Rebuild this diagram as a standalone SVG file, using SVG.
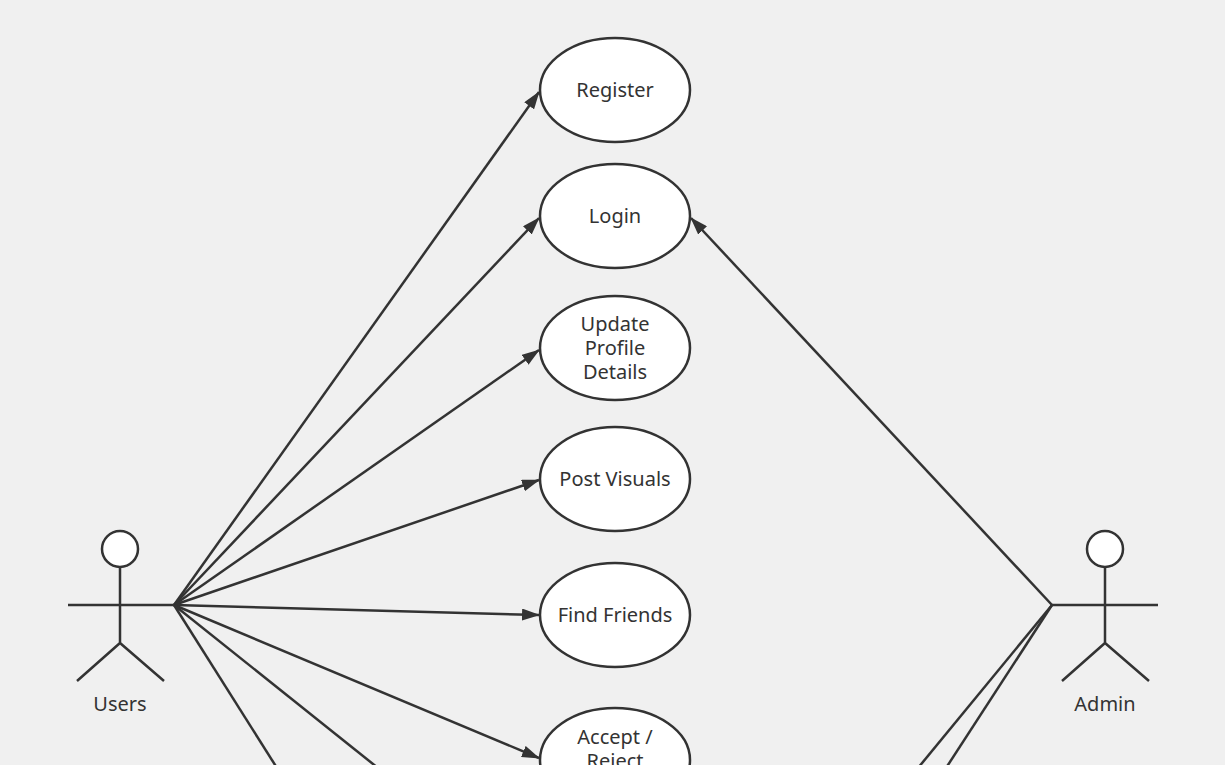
<svg xmlns="http://www.w3.org/2000/svg" width="1225" height="765" viewBox="0 0 1225 765">
<defs>
<marker id="a" markerWidth="18" markerHeight="12" refX="17" refY="6" orient="auto" markerUnits="userSpaceOnUse"><path d="M0,0 L18,6 L0,12 Z" fill="#333"/></marker>
<style>
.u{fill:#fff;stroke:#333;stroke-width:2.5}
.t{font-family:"Noto Sans","Open Sans",sans-serif;font-size:20px;fill:#333;text-anchor:middle}
.c{stroke:#333;stroke-width:2.5;fill:none}
.ar{marker-end:url(#a)}
</style>
</defs>
<rect width="1225" height="765" fill="#f0f0f0"/>
<g id="connectors">
<line class="c ar" x1="174" y1="605" x2="539" y2="92"/>
<line class="c ar" x1="174" y1="605" x2="539" y2="218"/>
<line class="c ar" x1="174" y1="605" x2="539" y2="350"/>
<line class="c ar" x1="174" y1="605" x2="539" y2="480"/>
<line class="c ar" x1="174" y1="605" x2="539" y2="615"/>
<line class="c ar" x1="174" y1="605" x2="539" y2="758"/>
<line class="c" x1="174" y1="605" x2="277" y2="768"/>
<line class="c" x1="174" y1="605" x2="378" y2="768"/>
<line class="c ar" x1="1052" y1="605" x2="691" y2="218"/>
<line class="c" x1="1052" y1="605" x2="918" y2="768"/>
<line class="c" x1="1052" y1="605" x2="946" y2="768"/>
</g>
<g id="register"><ellipse class="u" cx="615" cy="90" rx="75" ry="52"/><text class="t" x="615" y="97">Register</text></g>
<g id="login"><ellipse class="u" cx="615" cy="216" rx="75" ry="52"/><text class="t" x="615" y="223">Login</text></g>
<g id="update"><ellipse class="u" cx="615" cy="348" rx="75" ry="52"/><text class="t" x="615" y="331">Update</text><text class="t" x="615" y="355">Profile</text><text class="t" x="615" y="379">Details</text></g>
<g id="post"><ellipse class="u" cx="615" cy="479" rx="75" ry="52"/><text class="t" x="615" y="486">Post Visuals</text></g>
<g id="find"><ellipse class="u" cx="615" cy="615" rx="75" ry="52"/><text class="t" x="615" y="622">Find Friends</text></g>
<g id="accept"><ellipse class="u" cx="615" cy="760" rx="75" ry="52"/><text class="t" x="615" y="744">Accept /</text><text class="t" x="615" y="768">Reject</text></g>
<g id="users"><circle class="u" cx="120" cy="549" r="18"/><path class="c" d="M120,567 V643 M68,605 H174 M77,681 L120,643 L164,681"/><text class="t" x="120" y="711">Users</text></g>
<g id="admin"><circle class="u" cx="1105" cy="549" r="18"/><path class="c" d="M1105,567 V643 M1052,605 H1158 M1062,681 L1105,643 L1149,681"/><text class="t" x="1105" y="711">Admin</text></g>
</svg>
